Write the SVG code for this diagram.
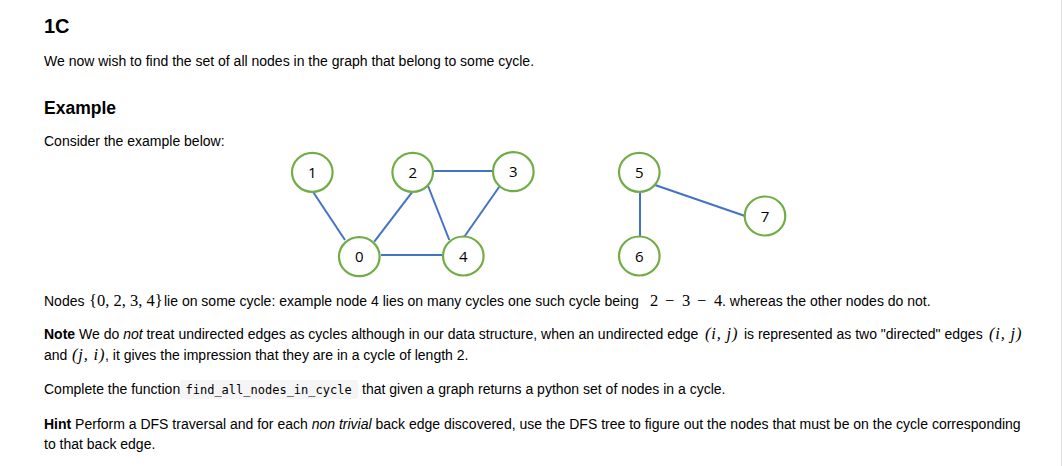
<svg xmlns="http://www.w3.org/2000/svg" width="1063" height="466" viewBox="0 0 1063 466">
<style>
.t{font-family:"Liberation Sans",Arial,Helvetica,sans-serif;font-size:14px;fill:#000}
.h{font-family:"Liberation Sans",Arial,Helvetica,sans-serif;font-weight:bold;fill:#000}
.b{font-weight:bold}
.i{font-style:italic}
.m{font-family:"Liberation Serif","Times New Roman",serif;font-size:16.5px}
.mi{font-family:"Liberation Serif","Times New Roman",serif;font-size:16.5px;font-style:italic;letter-spacing:0.8px}
.code{font-family:"DejaVu Sans Mono","Liberation Mono",monospace;font-size:12px;fill:#000}
.node ellipse{fill:#fff;stroke:#70AD47;stroke-width:2.2}
.node text{font-family:"Open Sans","Liberation Sans",sans-serif;font-size:15px;fill:#000;text-anchor:middle}
.edges line{stroke:#4472C4;stroke-width:2}
</style>
<rect x="0" y="0" width="1063" height="466" fill="#fff"/>
<line x1="1061.5" y1="0" x2="1061.5" y2="466" stroke="#e0e0e0" stroke-width="1"/>

<text class="h" x="44" y="33" font-size="20">1C</text>
<text class="t" x="44" y="66">We now wish to find the set of all nodes in the graph that belong to some cycle.</text>
<text class="h" x="44" y="114" font-size="17.5">Example</text>
<text class="t" x="44" y="146">Consider the example below:</text>

<g class="edges" id="connectors">
<line x1="312.3" y1="190.7" x2="345" y2="240"/>
<line x1="434" y1="171" x2="492.7" y2="171"/>
<line x1="413.3" y1="190.7" x2="374.3" y2="241.7"/>
<line x1="427.7" y1="185" x2="449.3" y2="240"/>
<line x1="499.3" y1="186.7" x2="464.3" y2="236.7"/>
<line x1="381" y1="255" x2="442.7" y2="255"/>
<line x1="640" y1="190.7" x2="640" y2="236.7"/>
<line x1="655" y1="185" x2="744.3" y2="215.7"/>
</g>

<g class="node" id="node1"><ellipse cx="312.3" cy="172.3" rx="20.3" ry="19.5"/><text x="312.3" y="177.8">1</text></g>
<g class="node" id="node2"><ellipse cx="412.7" cy="172.3" rx="20.3" ry="19.5"/><text x="412.7" y="177.8">2</text></g>
<g class="node" id="node3"><ellipse cx="513.3" cy="171.7" rx="20.3" ry="19.5"/><text x="513.3" y="177.2">3</text></g>
<g class="node" id="node0"><ellipse cx="359.3" cy="256.7" rx="20.3" ry="19.5"/><text x="359.3" y="262.2">0</text></g>
<g class="node" id="node4"><ellipse cx="463.3" cy="256" rx="20.3" ry="19.5"/><text x="463.3" y="261.5">4</text></g>
<g class="node" id="node5"><ellipse cx="639.3" cy="172.3" rx="20.3" ry="19.5"/><text x="639.3" y="177.8">5</text></g>
<g class="node" id="node6"><ellipse cx="639.3" cy="256" rx="20.3" ry="19.5"/><text x="639.3" y="261.5">6</text></g>
<g class="node" id="node7"><ellipse cx="765" cy="216" rx="20.3" ry="19.5"/><text x="765" y="221.5">7</text></g>

<text class="t" y="306"><tspan x="44">Nodes</tspan><tspan class="m" x="89">{0, 2, 3, 4}</tspan><tspan x="164">lie on some cycle: example node 4 lies on many cycles one such cycle being</tspan><tspan class="m" x="650">2</tspan><tspan class="m" x="665">−</tspan><tspan class="m" x="682">3</tspan><tspan class="m" x="697">−</tspan><tspan class="m" x="714">4</tspan><tspan x="722">. whereas the other nodes do not.</tspan></text>

<text class="t" y="339"><tspan x="44" class="b">Note</tspan> We do <tspan class="i">not</tspan> treat undirected edges as cycles although in our data structure, when an undirected edge<tspan class="mi" x="705">(i, j)</tspan><tspan x="740"> is represented as two "directed" edges</tspan><tspan class="mi" x="989">(i, j)</tspan></text>
<text class="t" y="360"><tspan x="44">and</tspan><tspan class="mi" x="72">(j, i)</tspan><tspan x="105">, it gives the impression that they are in a cycle of length 2.</tspan></text>

<rect x="180" y="380" width="178" height="19" rx="3" fill="#f5f5f5"/>
<text class="t" x="44" y="394">Complete the function</text>
<text class="code" x="185.5" y="394">find_all_nodes_in_cycle</text>
<text class="t" x="362" y="394">that given a graph returns a python set of nodes in a cycle.</text>

<text class="t" y="429"><tspan x="44" class="b">Hint</tspan> Perform a DFS traversal and for each <tspan class="i">non trivial</tspan> back edge discovered, use the DFS tree to figure out the nodes that must be on the cycle corresponding</text>
<text class="t" x="44" y="449">to that back edge.</text>
</svg>
